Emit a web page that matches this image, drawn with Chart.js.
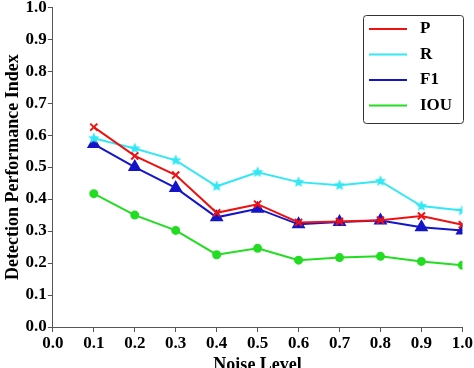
<!DOCTYPE html>
<html>
<head>
<meta charset="utf-8">
<script src="https://cdn.jsdelivr.net/npm/chart.js@4/dist/chart.umd.min.js"></script>
<style>
  html, body { margin: 0; padding: 0; background: #fff; overflow: hidden; }
  #wrap { width: 474px; height: 380px; margin-top: -4px; }
</style>
</head>
<body>
<div id="wrap"><canvas id="chart"></canvas></div>
<script>
// --- data ---
const noiseLevels = [0.1, 0.2, 0.3, 0.4, 0.5, 0.6, 0.7, 0.8, 0.9, 1.0];
const seriesP   = [0.625, 0.535, 0.475, 0.357, 0.384, 0.327, 0.330, 0.334, 0.347, 0.320];
const seriesR   = [0.590, 0.558, 0.521, 0.440, 0.484, 0.453, 0.443, 0.456, 0.378, 0.364];
const seriesF1  = [0.572, 0.500, 0.435, 0.343, 0.370, 0.321, 0.328, 0.333, 0.312, 0.302];
const seriesIOU = [0.417, 0.350, 0.302, 0.226, 0.246, 0.209, 0.217, 0.221, 0.205, 0.193];

const COLORS = { P: '#ee1111', R: '#33e8f4', F1: '#1414c8', IOU: '#22dd22' };
const FONT = '"Liberation Serif", "Times New Roman", serif';

const toPoints = arr => arr.map((v, i) => ({ x: noiseLevels[i], y: v }));

// 實心五角星 marker
function starImage(color, r) {
    const c = document.createElement('canvas');
    const s = Math.ceil(r * 2 + 2);
    c.width = s; c.height = s;
    const g = c.getContext('2d');
    g.fillStyle = color;
    g.beginPath();
    for (let i = 0; i < 10; i++) {
        const rad = i % 2 === 0 ? r : r * 0.45;
        const a = -Math.PI / 2 + i * Math.PI / 5;
        g.lineTo(s / 2 + rad * Math.cos(a), s / 2 + rad * Math.sin(a));
    }
    g.closePath();
    g.fill();
    return c;
}

function makeSet(label, data, color, style, radius) {
    return {
        label: label,
        data: toPoints(data),
        borderColor: color,
        backgroundColor: color,
        borderWidth: 2,
        pointStyle: style,
        pointRadius: radius,
        pointBorderWidth: 2,
        tension: 0
    };
}

// 方框圖例
const boxLegend = {
    id: 'boxLegend',
    afterDraw(chart) {
        const ctx = chart.ctx;
        const x0 = 363, y0 = 19, w = 100, h = 108;
        ctx.save();
        ctx.strokeStyle = '#333';
        ctx.lineWidth = 1;
        ctx.beginPath();
        ctx.roundRect(x0 + 0.5, y0 + 0.5, w, h, 3);
        ctx.stroke();
        ctx.font = 'bold 17px ' + FONT;
        ctx.textBaseline = 'middle';
        chart.data.datasets.forEach((ds, i) => {
            const y = y0 + 14 + i * 25.5;
            ctx.strokeStyle = ds.borderColor;
            ctx.lineWidth = 2;
            ctx.beginPath();
            ctx.moveTo(x0 + 6, y);
            ctx.lineTo(x0 + 44, y);
            ctx.stroke();
            ctx.fillStyle = '#000';
            ctx.fillText(ds.label, x0 + 57, y);
        });
        ctx.restore();
    }
};

const axisCommon = {
    type: 'linear',
    min: 0,
    max: 1,
    grid: { display: true, drawOnChartArea: false, drawTicks: true, tickLength: 5, color: '#555' },
    border: { display: true, color: '#555', width: 1 },
    ticks: {
        stepSize: 0.1,
        color: '#000',
        padding: 1,
        font: { family: FONT, size: 17, weight: 'bold' },
        callback: v => v.toFixed(1)
    }
};

new Chart(document.getElementById('chart'), {
    type: 'line',
    data: {
        datasets: [
            makeSet('P', seriesP, COLORS.P, 'crossRot', 5),
            makeSet('R', seriesR, COLORS.R, starImage(COLORS.R, 6), 6),
            makeSet('F1', seriesF1, COLORS.F1, 'triangle', 6),
            makeSet('IOU', seriesIOU, COLORS.IOU, 'circle', 3.5)
        ]
    },
    options: {
        responsive: true,
        maintainAspectRatio: false,
        animation: false,
        layout: { padding: { left: 3, right: 0, top: 0, bottom: 0 } },
        plugins: { legend: { display: false }, tooltip: { enabled: false } },
        scales: {
            x: Object.assign({}, axisCommon, {
                ticks: Object.assign({}, axisCommon.ticks, { maxRotation: 0 }),
                title: { display: true, text: 'Noise Level', color: '#000', padding: { top: 0, bottom: 0 },
                         font: { family: FONT, size: 18, weight: 'bold' } }
            }),
            y: Object.assign({}, axisCommon, {
                title: { display: true, text: 'Detection Performance Index', color: '#000', padding: { top: 0, bottom: 0 },
                         font: { family: FONT, size: 18, weight: 'bold' } }
            })
        }
    },
    plugins: [boxLegend]
});
</script>
</body>
</html>
